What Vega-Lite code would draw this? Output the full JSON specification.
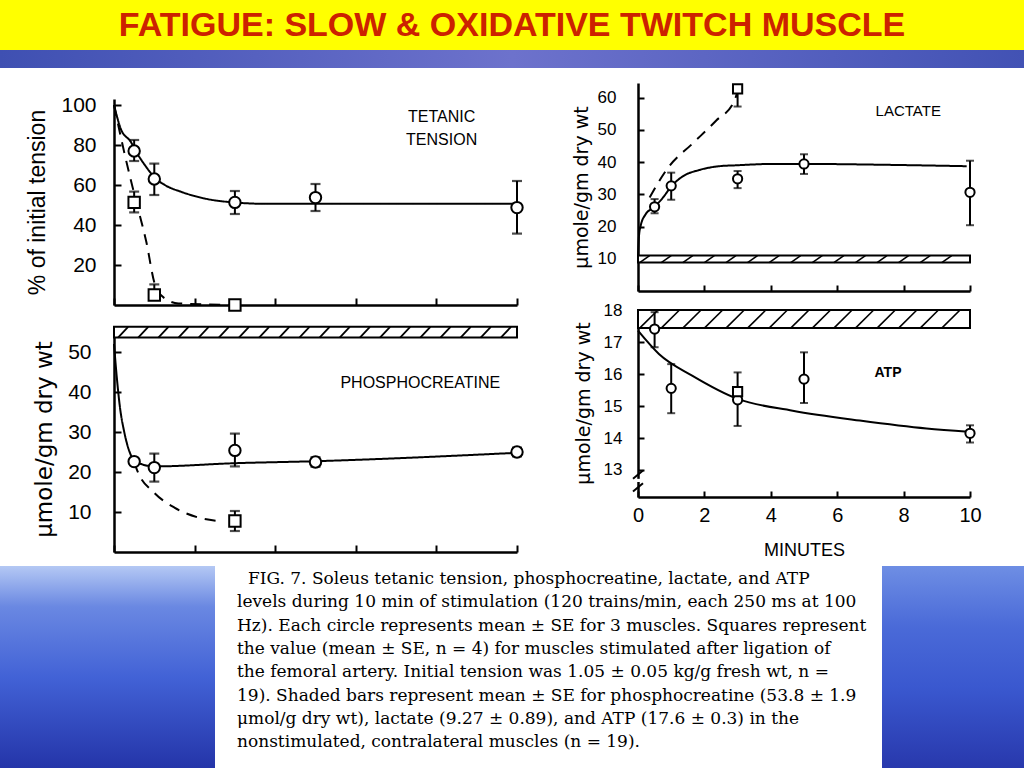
{
  "$schema": "https://vega.github.io/schema/vega-lite/v6.json",
  "padding": 0,
  "background": "white",
  "spacing": 0,
  "config": {
    "view": {"stroke": null},
    "axis": {"domainColor": "black", "domainWidth": 2.5, "tickColor": "black", "tickWidth": 2, "labelColor": "black", "titleColor": "black", "labelFont": "Liberation Sans", "titleFont": "Liberation Sans", "titleFontWeight": "normal", "grid": false, "labelFlush": false}
  },
  "datasets": {
    "tensionCurve": [
      {"t": 0, "v": 100, "g": "intact"}, {"t": 0.17, "v": 88, "g": "intact"}, {"t": 0.42, "v": 81.5, "g": "intact"}, {"t": 0.54, "v": 77, "g": "intact"}, {"t": 0.8, "v": 69, "g": "intact"}, {"t": 1.02, "v": 63.5, "g": "intact"}, {"t": 1.26, "v": 60, "g": "intact"}, {"t": 1.68, "v": 56.5, "g": "intact"}, {"t": 2.26, "v": 53.2, "g": "intact"}, {"t": 3.03, "v": 51.2, "g": "intact"}, {"t": 3.77, "v": 50.6, "g": "intact"}, {"t": 5, "v": 50.6, "g": "intact"}, {"t": 10, "v": 50.6, "g": "intact"},
      {"t": 0, "v": 100, "g": "ligated"}, {"t": 0.25, "v": 76.7, "g": "ligated"}, {"t": 0.54, "v": 52.5, "g": "ligated"}, {"t": 0.8, "v": 31.7, "g": "ligated"}, {"t": 1.02, "v": 10, "g": "ligated"}, {"t": 1.26, "v": 3.3, "g": "ligated"}, {"t": 1.6, "v": 0.8, "g": "ligated"}, {"t": 3.03, "v": 0, "g": "ligated"}
    ],
    "tensionPts": [
      {"t": 0.5, "v": 77, "lo": 72, "hi": 82.5, "g": "intact"},
      {"t": 1, "v": 63, "lo": 55, "hi": 70.7, "g": "intact"},
      {"t": 3, "v": 51.3, "lo": 45.5, "hi": 57, "g": "intact"},
      {"t": 5, "v": 53.7, "lo": 47, "hi": 60.5, "g": "intact"},
      {"t": 10, "v": 48.7, "lo": 35.7, "hi": 62, "g": "intact"},
      {"t": 0.5, "v": 51.3, "lo": 46.3, "hi": 56.7, "g": "ligated"},
      {"t": 1, "v": 5, "lo": 5, "hi": 10.3, "g": "ligated"},
      {"t": 3, "v": 0, "lo": null, "hi": null, "g": "ligated"}
    ],
    "pcrCurve": [
      {"t": 0, "v": 52, "g": "intact"}, {"t": 0.07, "v": 43.6, "g": "intact"}, {"t": 0.15, "v": 36, "g": "intact"}, {"t": 0.25, "v": 30.2, "g": "intact"}, {"t": 0.38, "v": 25.2, "g": "intact"}, {"t": 0.54, "v": 22.6, "g": "intact"}, {"t": 1, "v": 21.4, "g": "intact"}, {"t": 3, "v": 22.2, "g": "intact"}, {"t": 5, "v": 22.7, "g": "intact"}, {"t": 10, "v": 24.8, "g": "intact"},
      {"t": 0.5, "v": 22.5, "g": "ligated"}, {"t": 0.58, "v": 20.3, "g": "ligated"}, {"t": 1, "v": 14.8, "g": "ligated"}, {"t": 1.5, "v": 11.1, "g": "ligated"}, {"t": 2.1, "v": 8.6, "g": "ligated"}, {"t": 2.6, "v": 7.75, "g": "ligated"}
    ],
    "pcrPts": [
      {"t": 0.5, "v": 22.6, "lo": 21.8, "hi": 23.4, "g": "intact"},
      {"t": 1, "v": 21.1, "lo": 17.6, "hi": 24.6, "g": "intact"},
      {"t": 3, "v": 25.4, "lo": 21.4, "hi": 29.6, "g": "intact"},
      {"t": 5, "v": 22.5, "lo": 21.3, "hi": 23.7, "g": "intact"},
      {"t": 10, "v": 25, "lo": 23.9, "hi": 26.1, "g": "intact"},
      {"t": 3, "v": 7.75, "lo": 5.25, "hi": 10.25, "g": "ligated"}
    ],
    "lactCurve": [
      {"t": 0, "v": 11, "g": "intact"}, {"t": 0.03, "v": 17.1, "g": "intact"}, {"t": 0.08, "v": 20.2, "g": "intact"}, {"t": 0.23, "v": 23.8, "g": "intact"}, {"t": 0.46, "v": 25.8, "g": "intact"}, {"t": 0.74, "v": 28.8, "g": "intact"}, {"t": 1, "v": 32.4, "g": "intact"}, {"t": 1.34, "v": 35.5, "g": "intact"}, {"t": 1.84, "v": 37.5, "g": "intact"}, {"t": 2.45, "v": 38.7, "g": "intact"}, {"t": 3, "v": 39, "g": "intact"}, {"t": 4.06, "v": 39.4, "g": "intact"}, {"t": 5, "v": 39.4, "g": "intact"}, {"t": 7.68, "v": 39.1, "g": "intact"}, {"t": 9.9, "v": 38.7, "g": "intact"},
      {"t": 0.35, "v": 29, "g": "ligated"}, {"t": 0.94, "v": 38.7, "g": "ligated"}, {"t": 1.64, "v": 45.7, "g": "ligated"}, {"t": 2.35, "v": 52.8, "g": "ligated"}, {"t": 2.9, "v": 58.9, "g": "ligated"}, {"t": 3, "v": 62, "g": "ligated"}
    ],
    "lactPts": [
      {"t": 0.5, "v": 26.1, "lo": 24.1, "hi": 28.5, "g": "intact"},
      {"t": 1, "v": 32.6, "lo": 28.3, "hi": 36.7, "g": "intact"},
      {"t": 3, "v": 34.8, "lo": 31.9, "hi": 37.2, "g": "intact"},
      {"t": 5, "v": 39.4, "lo": 36.3, "hi": 42.4, "g": "intact"},
      {"t": 10, "v": 30.6, "lo": 20.4, "hi": 40.4, "g": "intact"},
      {"t": 3, "v": 62.7, "lo": 57.2, "hi": 62.7, "g": "ligated"}
    ],
    "atpCurve": [
      {"t": 0, "v": 17.37, "g": "intact"}, {"t": 0.63, "v": 16.64, "g": "intact"}, {"t": 1.63, "v": 15.96, "g": "intact"}, {"t": 3, "v": 15.23, "g": "intact"}, {"t": 4.66, "v": 14.86, "g": "intact"}, {"t": 6.68, "v": 14.55, "g": "intact"}, {"t": 8.69, "v": 14.3, "g": "intact"}, {"t": 9.95, "v": 14.2, "g": "intact"}
    ],
    "atpPts": [
      {"t": 0.5, "v": 17.42, "lo": 16.85, "hi": 17.95, "g": "intact"},
      {"t": 1, "v": 15.56, "lo": 14.78, "hi": 16.32, "g": "intact"},
      {"t": 3, "v": 15.2, "lo": 14.38, "hi": 16.06, "g": "intact"},
      {"t": 5, "v": 15.85, "lo": 15.1, "hi": 16.69, "g": "intact"},
      {"t": 10, "v": 14.15, "lo": 13.86, "hi": 14.4, "g": "intact"},
      {"t": 3, "v": 15.46, "lo": null, "hi": null, "g": "ligated"}
    ],
    "pcrBar": [{"t0": 0, "t1": 10, "lo": 53.6, "hi": 56.3}],
    "lactBar": [{"t0": 0, "t1": 10, "lo": 8.8, "hi": 11.0}],
    "atpBar": [{"t0": 0, "t1": 10, "lo": 17.45, "hi": 18.02}],
    "pcrHatch": [
      {"t0": 0.1, "t1": 0.35, "lo": 53.6, "hi": 56.3}, {"t0": 0.6, "t1": 0.85, "lo": 53.6, "hi": 56.3}, {"t0": 1.1, "t1": 1.35, "lo": 53.6, "hi": 56.3}, {"t0": 1.6, "t1": 1.85, "lo": 53.6, "hi": 56.3}, {"t0": 2.1, "t1": 2.35, "lo": 53.6, "hi": 56.3}, {"t0": 2.6, "t1": 2.85, "lo": 53.6, "hi": 56.3}, {"t0": 3.1, "t1": 3.35, "lo": 53.6, "hi": 56.3}, {"t0": 3.6, "t1": 3.85, "lo": 53.6, "hi": 56.3}, {"t0": 4.1, "t1": 4.35, "lo": 53.6, "hi": 56.3}, {"t0": 4.6, "t1": 4.85, "lo": 53.6, "hi": 56.3}, {"t0": 5.1, "t1": 5.35, "lo": 53.6, "hi": 56.3}, {"t0": 5.6, "t1": 5.85, "lo": 53.6, "hi": 56.3}, {"t0": 6.1, "t1": 6.35, "lo": 53.6, "hi": 56.3}, {"t0": 6.6, "t1": 6.85, "lo": 53.6, "hi": 56.3}, {"t0": 7.1, "t1": 7.35, "lo": 53.6, "hi": 56.3}, {"t0": 7.6, "t1": 7.85, "lo": 53.6, "hi": 56.3}, {"t0": 8.1, "t1": 8.35, "lo": 53.6, "hi": 56.3}, {"t0": 8.6, "t1": 8.85, "lo": 53.6, "hi": 56.3}, {"t0": 9.1, "t1": 9.35, "lo": 53.6, "hi": 56.3}, {"t0": 9.6, "t1": 9.85, "lo": 53.6, "hi": 56.3}
    ],
    "lactHatch": [
      {"t0": 0.05, "t1": 0.35, "lo": 8.8, "hi": 11.0}, {"t0": 0.7, "t1": 1.0, "lo": 8.8, "hi": 11.0}, {"t0": 1.35, "t1": 1.65, "lo": 8.8, "hi": 11.0}, {"t0": 2.0, "t1": 2.3, "lo": 8.8, "hi": 11.0}, {"t0": 2.65, "t1": 2.95, "lo": 8.8, "hi": 11.0}, {"t0": 3.3, "t1": 3.6, "lo": 8.8, "hi": 11.0}, {"t0": 3.95, "t1": 4.25, "lo": 8.8, "hi": 11.0}, {"t0": 4.6, "t1": 4.9, "lo": 8.8, "hi": 11.0}, {"t0": 5.25, "t1": 5.55, "lo": 8.8, "hi": 11.0}, {"t0": 5.9, "t1": 6.2, "lo": 8.8, "hi": 11.0}, {"t0": 6.55, "t1": 6.85, "lo": 8.8, "hi": 11.0}, {"t0": 7.2, "t1": 7.5, "lo": 8.8, "hi": 11.0}, {"t0": 7.85, "t1": 8.15, "lo": 8.8, "hi": 11.0}, {"t0": 8.5, "t1": 8.8, "lo": 8.8, "hi": 11.0}, {"t0": 9.15, "t1": 9.45, "lo": 8.8, "hi": 11.0}
    ],
    "atpHatch": [
      {"t0": 0.05, "t1": 0.6, "lo": 17.45, "hi": 18.02}, {"t0": 0.7, "t1": 1.25, "lo": 17.45, "hi": 18.02}, {"t0": 1.35, "t1": 1.9, "lo": 17.45, "hi": 18.02}, {"t0": 2.0, "t1": 2.55, "lo": 17.45, "hi": 18.02}, {"t0": 2.65, "t1": 3.2, "lo": 17.45, "hi": 18.02}, {"t0": 3.3, "t1": 3.85, "lo": 17.45, "hi": 18.02}, {"t0": 3.95, "t1": 4.5, "lo": 17.45, "hi": 18.02}, {"t0": 4.6, "t1": 5.15, "lo": 17.45, "hi": 18.02}, {"t0": 5.25, "t1": 5.8, "lo": 17.45, "hi": 18.02}, {"t0": 5.9, "t1": 6.45, "lo": 17.45, "hi": 18.02}, {"t0": 6.55, "t1": 7.1, "lo": 17.45, "hi": 18.02}, {"t0": 7.2, "t1": 7.75, "lo": 17.45, "hi": 18.02}, {"t0": 7.85, "t1": 8.4, "lo": 17.45, "hi": 18.02}, {"t0": 8.5, "t1": 9.05, "lo": 17.45, "hi": 18.02}, {"t0": 9.15, "t1": 9.7, "lo": 17.45, "hi": 18.02}
    ],
    "caption": [
      {"line": 1, "text": "FIG. 7. Soleus tetanic tension, phosphocreatine, lactate, and ATP"},
      {"line": 2, "text": "levels during 10 min of stimulation (120 trains/min, each 250 ms at 100"},
      {"line": 3, "text": "Hz). Each circle represents mean ± SE for 3 muscles. Squares represent"},
      {"line": 4, "text": "the value (mean ± SE, n = 4) for muscles stimulated after ligation of"},
      {"line": 5, "text": "the femoral artery. Initial tension was 1.05 ± 0.05 kg/g fresh wt, n ="},
      {"line": 6, "text": "19). Shaded bars represent mean ± SE for phosphocreatine (53.8 ± 1.9"},
      {"line": 7, "text": "μmol/g dry wt), lactate (9.27 ± 0.89), and ATP (17.6 ± 0.3) in the"},
      {"line": 8, "text": "nonstimulated, contralateral muscles (n = 19)."}
    ]
  },
  "vconcat": [
    {
      "width": 1024, "height": 50,
      "view": {"fill": "#ffff00", "stroke": null},
      "data": {"values": [{"title": "FATIGUE: SLOW & OXIDATIVE TWITCH MUSCLE"}]},
      "mark": {"type": "text", "font": "Liberation Sans", "fontWeight": "bold", "fontSize": 34, "color": "#cc2200", "baseline": "middle", "align": "center", "dy": 1},
      "encoding": {"text": {"field": "title"}}
    },
    {
      "width": 1024, "height": 18,
      "data": {"values": [{}]},
      "mark": {"type": "rect", "color": {"gradient": "linear", "x1": 0, "y1": 0, "x2": 1, "y2": 0, "stops": [{"offset": 0, "color": "#3f50b2"}, {"offset": 0.5, "color": "#6d72cc"}, {"offset": 1, "color": "#4252b4"}]}},
      "encoding": {}
    },
    {
      "spacing": 0,
      "hconcat": [
        {"width": 26, "height": 1, "data": {"values": [{}]}, "mark": {"type": "rect", "opacity": 0}, "encoding": {}},
        {
          "spacing": 45,
          "hconcat": [
            {
              "spacing": 21,
              "bounds": "flush",
              "vconcat": [
                {"width": 403, "height": 10, "data": {"values": [{}]}, "mark": {"type": "rect", "opacity": 0}, "encoding": {}},
                {
                  "width": 403, "height": 206,
                  "encoding": {
                    "x": {"field": "t", "type": "quantitative", "scale": {"domain": [0, 10], "nice": false}, "axis": {"values": [0, 2, 4, 6, 8, 10], "labels": false, "title": null, "tickSize": -7}},
                    "y": {"field": "v", "type": "quantitative", "scale": {"domain": [0, 103], "nice": false}, "axis": {"values": [20, 40, 60, 80, 100], "title": "% of initial tension", "titleFontSize": 23, "titlePadding": 11, "labelFontSize": 21, "labelPadding": 25, "tickSize": -7}}
                  },
                  "layer": [
                    {"data": {"name": "tensionCurve"}, "mark": {"type": "line", "color": "black", "strokeWidth": 2, "interpolate": "monotone"},
                     "encoding": {"strokeDash": {"field": "g", "type": "nominal", "scale": {"domain": ["intact", "ligated"], "range": [[1, 0], [11, 8]]}, "legend": null}}},
                    {"data": {"name": "tensionPts"}, "mark": {"type": "rule", "color": "black", "strokeWidth": 2}, "encoding": {"y": {"field": "lo", "type": "quantitative"}, "y2": {"field": "hi"}}},
                    {"data": {"name": "tensionPts"}, "mark": {"type": "tick", "orient": "horizontal", "size": 10, "thickness": 2.2, "color": "black"}, "encoding": {"y": {"field": "lo", "type": "quantitative"}}},
                    {"data": {"name": "tensionPts"}, "mark": {"type": "tick", "orient": "horizontal", "size": 10, "thickness": 2.2, "color": "black"}, "encoding": {"y": {"field": "hi", "type": "quantitative"}}},
                    {"data": {"name": "tensionPts"}, "mark": {"type": "point", "filled": false, "fill": "white", "stroke": "black", "strokeWidth": 2, "opacity": 1, "size": 130},
                     "encoding": {"shape": {"field": "g", "type": "nominal", "scale": {"domain": ["intact", "ligated"], "range": ["circle", "square"]}, "legend": null}}},
                    {"data": {"values": [{"t": 8.13, "v": 94, "label": "TETANIC"}, {"t": 8.13, "v": 82.5, "label": "TENSION"}]},
                     "mark": {"type": "text", "font": "Liberation Sans", "fontSize": 16, "color": "black", "align": "center", "baseline": "middle"},
                     "encoding": {"text": {"field": "label"}}}
                  ]
                },
                {
                  "width": 403, "height": 226,
                  "encoding": {
                    "x": {"field": "t", "type": "quantitative", "scale": {"domain": [0, 10], "nice": false}, "axis": {"values": [0, 2, 4, 6, 8, 10], "labels": false, "title": null, "tickSize": -7}},
                    "y": {"field": "v", "type": "quantitative", "scale": {"domain": [0, 56.5], "nice": false}, "axis": {"values": [10, 20, 30, 40, 50], "title": "μmole/gm dry wt", "titleFont": "DejaVu Sans", "titleFontSize": 23, "titlePadding": 11, "labelFontSize": 21, "labelPadding": 30, "tickSize": -7}}
                  },
                  "layer": [
                    {"data": {"name": "pcrBar"}, "mark": {"type": "rect", "fill": "white", "stroke": "black", "strokeWidth": 2},
                     "encoding": {"x": {"field": "t0", "type": "quantitative"}, "x2": {"field": "t1"}, "y": {"field": "lo", "type": "quantitative"}, "y2": {"field": "hi"}}},
                    {"data": {"name": "pcrHatch"}, "mark": {"type": "rule", "color": "black", "strokeWidth": 1.8},
                     "encoding": {"x": {"field": "t0", "type": "quantitative"}, "x2": {"field": "t1"}, "y": {"field": "lo", "type": "quantitative"}, "y2": {"field": "hi"}}},
                    {"data": {"name": "pcrCurve"}, "mark": {"type": "line", "color": "black", "strokeWidth": 2, "interpolate": "monotone"},
                     "encoding": {"strokeDash": {"field": "g", "type": "nominal", "scale": {"domain": ["intact", "ligated"], "range": [[1, 0], [11, 8]]}, "legend": null}}},
                    {"data": {"name": "pcrPts"}, "mark": {"type": "rule", "color": "black", "strokeWidth": 2}, "encoding": {"y": {"field": "lo", "type": "quantitative"}, "y2": {"field": "hi"}}},
                    {"data": {"name": "pcrPts"}, "mark": {"type": "tick", "orient": "horizontal", "size": 10, "thickness": 2.2, "color": "black"}, "encoding": {"y": {"field": "lo", "type": "quantitative"}}},
                    {"data": {"name": "pcrPts"}, "mark": {"type": "tick", "orient": "horizontal", "size": 10, "thickness": 2.2, "color": "black"}, "encoding": {"y": {"field": "hi", "type": "quantitative"}}},
                    {"data": {"name": "pcrPts"}, "mark": {"type": "point", "filled": false, "fill": "white", "stroke": "black", "strokeWidth": 2, "opacity": 1, "size": 130},
                     "encoding": {"shape": {"field": "g", "type": "nominal", "scale": {"domain": ["intact", "ligated"], "range": ["circle", "square"]}, "legend": null}}},
                    {"data": {"values": [{"t": 7.6, "v": 42.2, "label": "PHOSPHOCREATINE"}]},
                     "mark": {"type": "text", "font": "Liberation Sans", "fontSize": 16, "color": "black", "align": "center", "baseline": "middle"},
                     "encoding": {"text": {"field": "label"}}}
                  ]
                }
              ]
            },
            {
              "spacing": 0,
              "vconcat": [
                {"width": 10, "height": 12, "data": {"values": [{}]}, "mark": {"type": "rect", "opacity": 0}, "encoding": {}},
                {
                  "spacing": 18,
                  "bounds": "flush",
                  "vconcat": [
                    {
                      "width": 332, "height": 208,
                      "encoding": {
                        "x": {"field": "t", "type": "quantitative", "scale": {"domain": [0, 10], "nice": false}, "axis": {"values": [0, 2, 4, 6, 8, 10], "labels": false, "title": null, "tickSize": -6}},
                        "y": {"field": "v", "type": "quantitative", "scale": {"domain": [0, 64.5], "nice": false}, "axis": {"values": [10, 20, 30, 40, 50, 60], "title": "μmole/gm dry wt", "titleFont": "DejaVu Sans", "titleFontSize": 19, "titlePadding": 6, "labelFontSize": 17, "labelPadding": 28, "tickSize": -6}}
                      },
                      "layer": [
                        {"data": {"name": "lactBar"}, "mark": {"type": "rect", "fill": "white", "stroke": "black", "strokeWidth": 2},
                         "encoding": {"x": {"field": "t0", "type": "quantitative"}, "x2": {"field": "t1"}, "y": {"field": "lo", "type": "quantitative"}, "y2": {"field": "hi"}}},
                        {"data": {"name": "lactHatch"}, "mark": {"type": "rule", "color": "black", "strokeWidth": 1.6},
                         "encoding": {"x": {"field": "t0", "type": "quantitative"}, "x2": {"field": "t1"}, "y": {"field": "lo", "type": "quantitative"}, "y2": {"field": "hi"}}},
                        {"data": {"name": "lactCurve"}, "mark": {"type": "line", "color": "black", "strokeWidth": 2, "interpolate": "monotone"},
                         "encoding": {"strokeDash": {"field": "g", "type": "nominal", "scale": {"domain": ["intact", "ligated"], "range": [[1, 0], [10, 8]]}, "legend": null}}},
                        {"data": {"name": "lactPts"}, "mark": {"type": "rule", "color": "black", "strokeWidth": 2}, "encoding": {"y": {"field": "lo", "type": "quantitative"}, "y2": {"field": "hi"}}},
                        {"data": {"name": "lactPts"}, "mark": {"type": "tick", "orient": "horizontal", "size": 8, "thickness": 2, "color": "black"}, "encoding": {"y": {"field": "lo", "type": "quantitative"}}},
                        {"data": {"name": "lactPts"}, "mark": {"type": "tick", "orient": "horizontal", "size": 8, "thickness": 2, "color": "black"}, "encoding": {"y": {"field": "hi", "type": "quantitative"}}},
                        {"data": {"name": "lactPts"}, "mark": {"type": "point", "filled": false, "fill": "white", "stroke": "black", "strokeWidth": 2, "opacity": 1, "size": 85},
                         "encoding": {"shape": {"field": "g", "type": "nominal", "scale": {"domain": ["intact", "ligated"], "range": ["circle", "square"]}, "legend": null}}},
                        {"data": {"values": [{"t": 8.14, "v": 55.9, "label": "LACTATE"}]},
                         "mark": {"type": "text", "font": "Liberation Sans", "fontSize": 15, "color": "black", "align": "center", "baseline": "middle"},
                         "encoding": {"text": {"field": "label"}}}
                      ]
                    },
                    {
                      "width": 332, "height": 188,
                      "encoding": {
                        "x": {"field": "t", "type": "quantitative", "scale": {"domain": [0, 10], "nice": false}, "axis": {"values": [0, 2, 4, 6, 8, 10], "title": "MINUTES", "titleFontSize": 18, "titlePadding": 16, "labelFontSize": 20, "labelPadding": 14, "tickSize": -6}},
                        "y": {"field": "v", "type": "quantitative", "scale": {"domain": [12.15, 18.05], "nice": false, "zero": false}, "axis": {"values": [13, 14, 15, 16, 17, 18], "title": "μmole/gm dry wt", "titleFont": "DejaVu Sans", "titleFontSize": 19, "titlePadding": 10, "labelFontSize": 17, "labelPadding": 22, "tickSize": -6}}
                      },
                      "layer": [
                        {"data": {"name": "atpBar"}, "mark": {"type": "rect", "fill": "white", "stroke": "black", "strokeWidth": 2},
                         "encoding": {"x": {"field": "t0", "type": "quantitative"}, "x2": {"field": "t1"}, "y": {"field": "lo", "type": "quantitative"}, "y2": {"field": "hi"}}},
                        {"data": {"name": "atpHatch"}, "mark": {"type": "rule", "color": "black", "strokeWidth": 1.6},
                         "encoding": {"x": {"field": "t0", "type": "quantitative"}, "x2": {"field": "t1"}, "y": {"field": "lo", "type": "quantitative"}, "y2": {"field": "hi"}}},
                        {"data": {"values": [{"t0": 0, "a": 12.62, "b": 12.72}]}, "mark": {"type": "rule", "color": "white", "strokeWidth": 6},
                         "encoding": {"x": {"field": "t0", "type": "quantitative"}, "y": {"field": "a", "type": "quantitative"}, "y2": {"field": "b"}}},
                        {"data": {"values": [{"t0": -0.15, "t1": 0.15, "a": 12.72, "b": 12.98}, {"t0": -0.15, "t1": 0.15, "a": 12.32, "b": 12.58}]}, "mark": {"type": "rule", "color": "black", "strokeWidth": 2},
                         "encoding": {"x": {"field": "t0", "type": "quantitative"}, "x2": {"field": "t1"}, "y": {"field": "a", "type": "quantitative"}, "y2": {"field": "b"}}},
                        {"data": {"name": "atpCurve"}, "mark": {"type": "line", "color": "black", "strokeWidth": 2, "interpolate": "monotone"}, "encoding": {}},
                        {"data": {"name": "atpPts"}, "mark": {"type": "rule", "color": "black", "strokeWidth": 2}, "encoding": {"y": {"field": "lo", "type": "quantitative"}, "y2": {"field": "hi"}}},
                        {"data": {"name": "atpPts"}, "mark": {"type": "tick", "orient": "horizontal", "size": 8, "thickness": 2, "color": "black"}, "encoding": {"y": {"field": "lo", "type": "quantitative"}}},
                        {"data": {"name": "atpPts"}, "mark": {"type": "tick", "orient": "horizontal", "size": 8, "thickness": 2, "color": "black"}, "encoding": {"y": {"field": "hi", "type": "quantitative"}}},
                        {"data": {"name": "atpPts"}, "mark": {"type": "point", "filled": false, "fill": "white", "stroke": "black", "strokeWidth": 2, "opacity": 1, "size": 85},
                         "encoding": {"shape": {"field": "g", "type": "nominal", "scale": {"domain": ["intact", "ligated"], "range": ["circle", "square"]}, "legend": null}}},
                        {"data": {"values": [{"t": 7.53, "v": 16.04, "label": "ATP"}]},
                         "mark": {"type": "text", "font": "Liberation Sans", "fontSize": 14, "fontWeight": "bold", "color": "black", "align": "center", "baseline": "middle"},
                         "encoding": {"text": {"field": "label"}}}
                      ]
                    }
                  ]
                },
                {"width": 10, "height": 7, "data": {"values": [{}]}, "mark": {"type": "rect", "opacity": 0}, "encoding": {}}
              ]
            }
          ]
        }
      ]
    },
    {
      "spacing": 0,
      "hconcat": [
        {
          "width": 215, "height": 203,
          "data": {"values": [{}]},
          "mark": {"type": "rect", "color": {"gradient": "linear", "x1": 0, "y1": 0, "x2": 0, "y2": 1, "stops": [{"offset": 0, "color": "#b4c8f4"}, {"offset": 0.2, "color": "#6a88e2"}, {"offset": 0.55, "color": "#4262d6"}, {"offset": 1, "color": "#2434a8"}]}},
          "encoding": {}
        },
        {
          "width": 667, "height": 203,
          "view": {"fill": "white", "stroke": null},
          "data": {"name": "caption"},
          "encoding": {
            "x": {"datum": 0, "type": "quantitative", "scale": {"domain": [0, 1]}, "axis": null},
            "y": {"field": "line", "type": "quantitative", "scale": {"domain": [0.44, 9.15], "reverse": true, "nice": false, "zero": false}, "axis": null},
            "text": {"field": "text"}
          },
          "layer": [
            {"transform": [{"filter": "datum.line > 1"}], "mark": {"type": "text", "align": "left", "baseline": "middle", "font": "DejaVu Serif", "fontSize": 17, "color": "black", "dx": 22}},
            {"transform": [{"filter": "datum.line == 1"}], "mark": {"type": "text", "align": "left", "baseline": "middle", "font": "DejaVu Serif", "fontSize": 17, "color": "black", "dx": 33}}
          ]
        },
        {
          "width": 142, "height": 203,
          "data": {"values": [{}]},
          "mark": {"type": "rect", "color": {"gradient": "linear", "x1": 0, "y1": 0, "x2": 0, "y2": 1, "stops": [{"offset": 0, "color": "#6e8ee4"}, {"offset": 0.3, "color": "#4a6ad8"}, {"offset": 0.6, "color": "#3a58cf"}, {"offset": 1, "color": "#2838ac"}]}},
          "encoding": {}
        }
      ]
    }
  ]
}
